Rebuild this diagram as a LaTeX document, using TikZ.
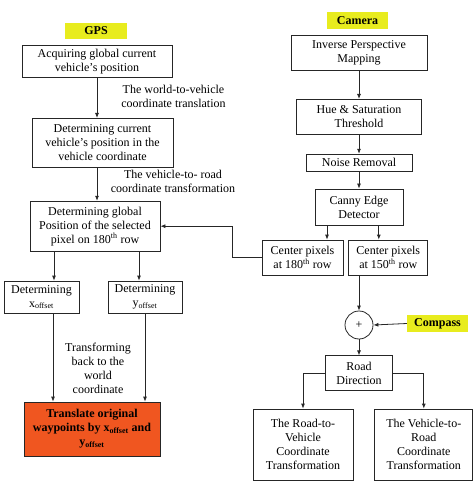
\documentclass[tikz,border=0pt]{standalone}
\usepackage{fontspec}
\setmainfont{Liberation Serif}
\usepackage{xcolor,tikz}
\usetikzlibrary{arrows.meta,positioning}
\definecolor{tagyellow}{RGB}{232,236,30}
\definecolor{endorange}{RGB}{240,86,32}
\begin{document}
\begin{tikzpicture}[x=1pt,y=1pt,
  box/.style={draw=black!85,line width=0.8pt,fill=white,align=center,
    inner sep=1pt,font=\fontsize{12}{14}\selectfont},
  tag/.style={fill=tagyellow,inner sep=1pt,font=\fontsize{12}{14}\selectfont\bfseries},
  note/.style={align=center,inner sep=0pt,font=\fontsize{12}{14}\selectfont},
  arrow/.style={-{Latex[length=5pt,width=4pt]},line width=0.8pt,draw=black!85}]
\useasboundingbox (0,0) rectangle (474,-486);
% GPS side
\node[tag,minimum width=62,minimum height=16] (gps) at (96,-31) {GPS};
\node[box,minimum width=150,minimum height=32,below=6pt of gps,xshift=1pt] (acquire)
  {Acquiring global current\\vehicle's position};
\node[box,minimum width=141,minimum height=49,below=40pt of acquire,xshift=5.5pt] (vehpos)
  {Determining current\\vehicle's position in the\\vehicle coordinate};
\node[box,minimum width=130,minimum height=50,below=33pt of vehpos,xshift=-7.5pt] (globpos)
  {Determining global\\Position of the selected\\pixel on 180\textsuperscript{th} row};
\node[box,minimum width=75,minimum height=32] (xoff) at (41.5,-297)
  {Determining\\x\textsubscript{offset}};
\node[box,minimum width=74,minimum height=32] (yoff) at (145,-297)
  {Determining\\y\textsubscript{offset}};
\node[box,fill=endorange,minimum width=136,minimum height=54,font=\fontsize{12}{14}\selectfont\bfseries]
  (translate) at (92,-429)
  {Translate original\\waypoints by x\textsubscript{offset} and\\y\textsubscript{offset}};
\node[note] (wtov) at (173.5,-96.5) {The world-to-vehicle\\coordinate translation};
\node[note] (vtor) at (173,-181.5) {The vehicle-to- road\\coordinate transformation};
\node[note] (back) at (98,-368.5) {Transforming\\back to the\\world\\coordinate};
% Camera side
\node[tag,minimum width=61,minimum height=17] (camera) at (357.5,-20.5) {Camera};
\node[box,minimum width=136,minimum height=35,below=6pt of camera,xshift=1.5pt] (ipm)
  {Inverse Perspective\\Mapping};
\node[box,minimum width=125,minimum height=35,below=28pt of ipm] (hue)
  {Hue \& Saturation\\Threshold};
\node[box,minimum width=106,minimum height=17,below=19pt of hue] (noise) {Noise Removal};
\node[box,minimum width=88,minimum height=36,below=17pt of noise] (canny)
  {Canny Edge\\Detector};
\node[box,minimum width=81,minimum height=35] (row180) at (302.5,-257.5)
  {Center pixels\\at 180\textsuperscript{th} row};
\node[box,minimum width=79,minimum height=35,right=5pt of row180] (row150)
  {Center pixels\\at 150\textsuperscript{th} row};
\node[box,circle,minimum size=28] (plus) at (359,-325) {+};
\node[tag,minimum width=61,minimum height=17] (compass) at (437.5,-323.5) {Compass};
\node[box,minimum width=67,minimum height=35,below=16pt of plus] (road) {Road\\Direction};
\node[box,minimum width=100,minimum height=71] (roadveh) at (303,-444.5)
  {The Road-to-\\Vehicle\\Coordinate\\Transformation};
\node[box,minimum width=98,minimum height=71,right=21pt of roadveh] (vehroad)
  {The Vehicle-to-\\Road\\Coordinate\\Transformation};
% connectors
\draw[arrow] (acquire.south) -- (acquire.south |- vehpos.north);
\draw[arrow] (acquire.south |- vehpos.south) -- (acquire.south |- globpos.north);
\draw[arrow] ([xshift=12.5pt]xoff.north |- globpos.south) -- ([xshift=12.5pt]xoff.north);
\draw[arrow] ([xshift=-6pt]yoff.north |- globpos.south) -- ([xshift=-6pt]yoff.north);
\draw[arrow] ([xshift=11.5pt]xoff.south) -- ([xshift=11.5pt]xoff.south |- translate.north);
\draw[arrow] (yoff.south) -- (yoff.south |- translate.north);
\foreach \a/\b in {ipm/hue,hue/noise,noise/canny}
  \draw[arrow] (\a.south) -- (\a.south |- \b.north);
\draw[arrow] ([xshift=24.5pt]row180.north |- canny.south) -- ([xshift=24.5pt]row180.north);
\draw[arrow] ([xshift=-9.5pt]row150.north |- canny.south) -- ([xshift=-9.5pt]row150.north);
\draw[arrow] (row180.west) -- ++(-29,0) |- (globpos.east);
\draw[arrow] (plus |- row150.south) -- (plus.north);
\draw[arrow] (compass.west) -- (plus.east);
\draw[arrow] (plus.south) -- (road.north);
\draw[arrow] (road.west) -| (roadveh.north);
\draw[arrow] (road.east) -| (vehroad.north);
\end{tikzpicture}
\end{document}
